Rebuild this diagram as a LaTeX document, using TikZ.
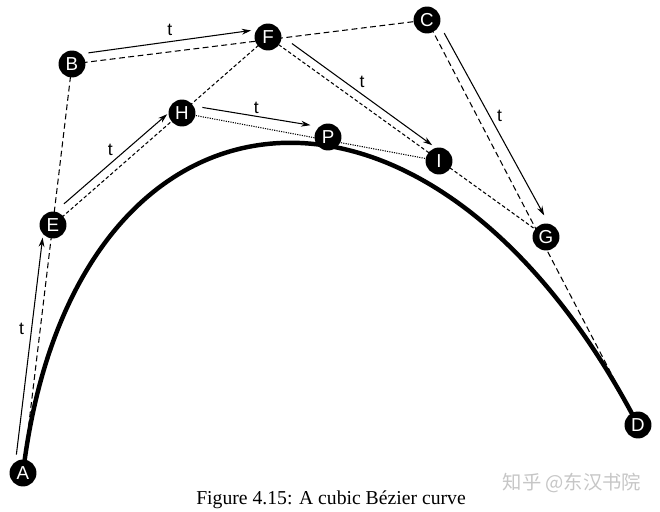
\documentclass[tikz,border=0pt]{standalone}
\usepackage{fontspec}
\setmainfont{Liberation Serif}
\setsansfont{Liberation Sans}
\newfontfamily\cjkfont{Noto Sans CJK SC}
\usetikzlibrary{arrows.meta,calc}

\pgfdeclarelayer{background}
\pgfsetlayers{background,main}

\tikzset{
	pt/.style={circle, fill=black, inner sep=0pt, minimum size=23pt, text=white, font=\sffamily\fontsize{16}{16}\selectfont},
	polyone/.style={line width=0.9pt, dash pattern=on 5pt off 3pt},
	polytwo/.style={line width=0.9pt, dash pattern=on 3pt off 2pt},
	polythree/.style={line width=0.9pt, dash pattern=on 1pt off 1pt},
	bezier/.style={line width=3.8pt},
	tarrow/.style={line width=0.9pt, -{Stealth[length=8pt,width=5pt]}},
	tlabel/.style={font=\sffamily\fontsize{15}{15}\selectfont, inner sep=2pt}
}

\begin{document}
\begin{tikzpicture}[x=0.03cm, y=-0.03cm]
	% frame
	\useasboundingbox (0,0) rectangle (660,512);
	
	\def\offs{7.5pt}
	
	% points
	\node[pt] (A) at (23,473) {A};
	\node[pt] (B) at (72,64) {B};
	\node[pt] (C) at (427,20) {C};
	\node[pt] (D) at (638,425) {D};
	\node[pt] (E) at (53,225) {E};
	\node[pt] (F) at (268,37) {F};
	\node[pt] (G) at (546,237) {G};
	\node[pt] (H) at (182,113) {H};
	\node[pt] (I) at (439,161) {I};
	\node[pt] (P) at (328,137) {P};
	
	% construction lines and curve
	\begin{pgfonlayer}{background}
		\draw[polyone] (A.center) -- (B.center) -- (C.center) -- (D.center);
		\draw[polytwo] (E.center) -- (F.center) -- (G.center);
		\draw[polythree] (H.center) -- (I.center);
		\draw[bezier] (A.center) .. controls (B.center) and (C.center) .. (D.center);
	\end{pgfonlayer}
	
	% t arrows
	\draw[tarrow] ($(A)!0.07!(E)!\offs!90:(E)$) -- ($(A)!0.945!(E)!\offs!-90:(A)$) node[tlabel, pos=0.58, left=4pt]{t};
	\draw[tarrow] ($(B)!0.09!(F)!\offs!90:(F)$) -- ($(B)!0.92!(F)!\offs!-90:(B)$) node[tlabel, midway, above=3pt]{t};
	\draw[tarrow] ($(E)!0.13!(H)!\offs!90:(H)$) -- ($(E)!0.93!(H)!\offs!-90:(E)$) node[tlabel, midway, above left]{t};
	\draw[tarrow] ($(H)!0.13!(P)!\offs!90:(P)$) -- ($(H)!0.87!(P)!\offs!-90:(H)$) node[tlabel, midway, above]{t};
	\draw[tarrow] ($(F)!0.11!(I)!\offs!90:(I)$) -- ($(F)!0.93!(I)!\offs!-90:(F)$) node[tlabel, midway, above=3pt]{t};
	\draw[tarrow] ($(C)!0.08!(G)!\offs!90:(G)$) -- ($(C)!0.92!(G)!\offs!-90:(C)$) node[tlabel, midway, above right]{t};
	
	% caption
	\node[anchor=base, font=\fontsize{16.8}{16.8}\selectfont] (cap) at (331,505) {Figure 4.15: A cubic Bézier curve};
	\node[font=\cjkfont\fontsize{16.5}{16.5}\selectfont, text=gray!45] (wm) at (572,483) {知乎 @东汉书院};
\end{tikzpicture}
\end{document}
